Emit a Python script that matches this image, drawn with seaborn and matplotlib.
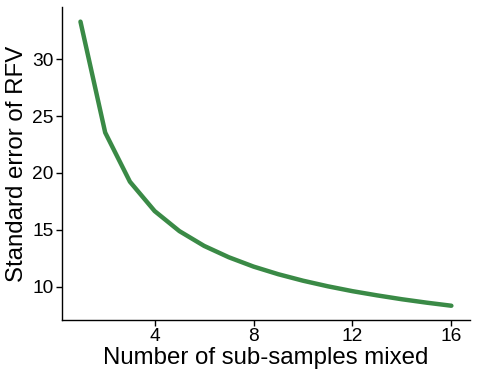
import matplotlib
matplotlib.use("Agg")
import matplotlib.pyplot as plt
import seaborn as sns
import pandas as pd

n_subsamples = [1, 2, 3, 4, 5, 6, 7, 8, 9, 10, 11, 12, 13, 14, 15, 16]
std_error = [33.3, 23.55, 19.23, 16.65, 14.89, 13.59, 12.59, 11.77,
             11.10, 10.53, 10.04, 9.61, 9.24, 8.90, 8.60, 8.33]
x_ticks = [4, 8, 12, 16]
y_ticks = [10, 15, 20, 25, 30]

sns.set_theme(style="ticks")
plt.rcParams['font.family'] = ['Liberation Sans', 'DejaVu Sans']

df = pd.DataFrame({"n": n_subsamples, "se": std_error})

fig = plt.figure(figsize=(4.8, 3.8), dpi=100)
ax = fig.add_axes([0.129, 0.158, 0.85, 0.824])
sns.lineplot(data=df, x="n", y="se", ax=ax, color="#3A8A46", linewidth=3.2)

ax.set_xlim(0.25, 16.75)
ax.set_ylim(7.08, 34.6)
ax.set_xticks(x_ticks)
ax.set_yticks(y_ticks)
ax.set_xlabel("Number of sub-samples mixed", fontsize=17.3, color="black", labelpad=1)
ax.set_ylabel("Standard error of RFV", fontsize=17.3, color="black", labelpad=3)
ax.tick_params(axis="both", labelsize=13.8, colors="black", length=4, width=1, pad=2)
for s in ["top", "right"]:
    ax.spines[s].set_visible(False)
for s in ["left", "bottom"]:
    ax.spines[s].set_color("black")
    ax.spines[s].set_linewidth(1.0)

fig.savefig("out.png", dpi=100)
